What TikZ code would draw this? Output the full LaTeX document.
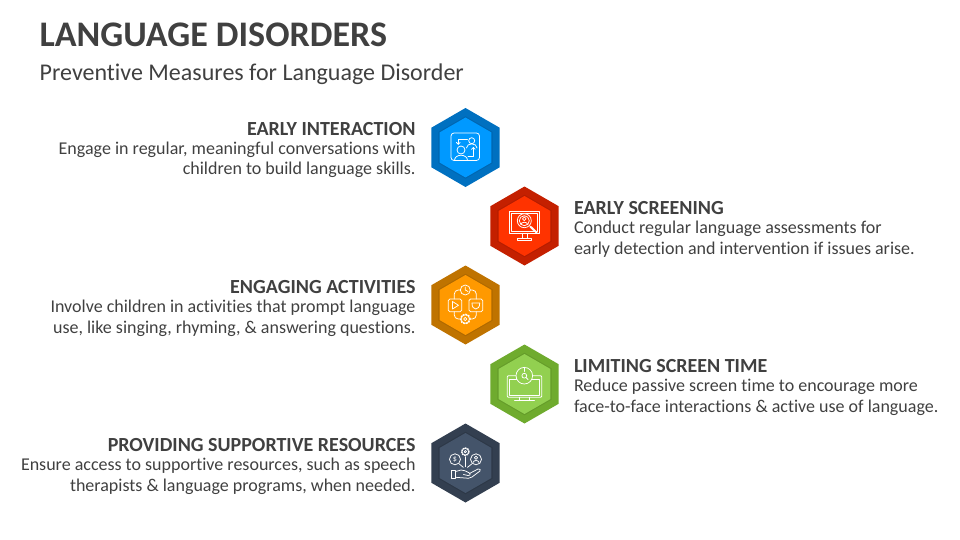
\documentclass[tikz,border=0pt]{standalone}
\usepackage{fontspec}
\setmainfont[Ligatures=NoCommon]{Carlito}
\usetikzlibrary{shapes.geometric}
\definecolor{txt}{HTML}{404040}
\definecolor{blueA}{HTML}{0070C0}\definecolor{blueS}{HTML}{0066B0}\definecolor{blueB}{HTML}{0099FF}
\definecolor{redA}{HTML}{C42000}\definecolor{redS}{HTML}{B41D00}\definecolor{redB}{HTML}{FF3300}
\definecolor{orA}{HTML}{BF7300}\definecolor{orS}{HTML}{AE6900}\definecolor{orB}{HTML}{FF9900}
\definecolor{grA}{HTML}{6FAB2E}\definecolor{grS}{HTML}{659C2A}\definecolor{grB}{HTML}{92D050}
\definecolor{navA}{HTML}{333F50}\definecolor{navS}{HTML}{2D3847}\definecolor{navB}{HTML}{44546A}
\tikzset{
 hex/.style={regular polygon,regular polygon sides=6,shape border rotate=30,inner sep=0pt,outer sep=0pt,draw=none},
 hexout/.style={hex,minimum size=79pt},
 hexshade/.style={hex,minimum size=62.5pt},
 hexin/.style={hex,minimum size=60pt},
 ttl/.style={inner sep=0pt,outer sep=0pt,text=txt,font=\fontsize{20}{24}\selectfont\bfseries},
 bodyR/.style={inner sep=0pt,outer sep=0pt,text=txt,anchor=base east,font=\fontsize{18}{21}\selectfont},
 bodyL/.style={inner sep=0pt,outer sep=0pt,text=txt,anchor=base west,font=\fontsize{18}{21}\selectfont},
 ic/.style={draw=white,line width=0.75pt,line cap=round,line join=round},
}
\newcommand{\hexa}[4]{%
 \node[hexout,fill=#3A] (#1o) at (#2,#4) {};
 \node[hexshade,fill=#3S] (#1s) at (#2,#4) {};
 \node[hexin,fill=#3B] (#1i) at (#2,#4) {};
}
\begin{document}
\begin{tikzpicture}[x=1pt,y=-1pt]
\useasboundingbox (0,0) rectangle (960,540);
\node[inner sep=0pt,anchor=base west,text=txt,font=\fontsize{36}{40}\selectfont\bfseries] (title) at (39.5,46.5) {LANGUAGE DISORDERS};
\node[inner sep=0pt,anchor=base west,text=txt,font=\fontsize{24}{28}\selectfont] (sub) at (39.5,81) {Preventive Measures for Language Disorder};

\hexa{a}{465.5}{blue}{147.5}
\hexa{b}{524.5}{red}{226}
\hexa{c}{465.5}{or}{305}
\hexa{d}{524.5}{gr}{384}
\hexa{e}{465.5}{nav}{463}

% left / right texts
\node[ttl,anchor=base east] (t1) at (415.5,135.5) {EARLY INTERACTION};
\node[bodyR] (b1a) at (415.5,155) {Engage in regular, meaningful conversations with};
\node[bodyR] (b1b) at (415.5,175) {children to build language skills.};
\node[ttl,anchor=base west] (t2) at (574,214) {EARLY SCREENING};
\node[bodyL] (b2a) at (574,233) {Conduct regular language assessments for};
\node[bodyL] (b2b) at (574,254) {early detection and intervention if issues arise.};
\node[ttl,anchor=base east] (t3) at (415.5,293) {ENGAGING ACTIVITIES};
\node[bodyR] (b3a) at (415.5,312) {Involve children in activities that prompt language};
\node[bodyR] (b3b) at (415.5,333) {use, like singing, rhyming, \& answering questions.};
\node[ttl,anchor=base west] (t4) at (574,372) {LIMITING SCREEN TIME};
\node[bodyL] (b4a) at (574,391) {Reduce passive screen time to encourage more};
\node[bodyL] (b4b) at (574,412) {face-to-face interactions \& active use of language.};
\node[ttl,anchor=base east] (t5) at (415.5,451) {PROVIDING SUPPORTIVE RESOURCES};
\node[bodyR] (b5a) at (415.5,470) {Ensure access to supportive resources, such as speech};
\node[bodyR] (b5b) at (415.5,491) {therapists \& language programs, when needed.};

% icon 1
\begin{scope}[ic]
\draw[rounded corners=3pt] (451,133) rectangle (479.5,160.5);
\draw (461,150) circle (4pt);
\draw (454.5,160.5) .. controls (454.5,153.5) and (467.5,153.5) .. (467.5,160.5);
\draw (471.7,140.7) circle (3pt);
\draw (466.5,148) .. controls (466.5,142.5) and (477,142.5) .. (477,148);
\draw (467.5,139.3) -- (458.3,139.3) -- (458.3,144.3);
\draw (456.5,142.5) -- (458.3,144.3) -- (460.1,142.5);
\draw (468,156.7) -- (473.3,156.7) -- (473.3,147.5);
\draw (471.5,149.3) -- (473.3,147.5) -- (475.1,149.3);
\end{scope}
% icon 2
\begin{scope}[ic]
\draw (509.3,211) rectangle (539.3,233.3);
\draw (511.3,213) rectangle (537.3,231);
\draw (522,233.3) -- (522,238.3) (527,233.3) -- (527,238.3);
\draw (517.5,238.3) rectangle (531.7,240.7);
\draw[fill=redB] (524.3,220.7) circle (7pt);
\draw (524.3,220.7) circle (5pt);
\draw (524.3,218.8) circle (1.8pt);
\draw (520.8,224.5) .. controls (521.5,221.5) and (527,221.5) .. (527.8,224.5);
\draw[line width=2pt] (530.3,226.5) -- (536.7,232.7);
\end{scope}
% icon 3
\begin{scope}[ic]
\draw[rounded corners=4pt] (460.3,290) -- (454.3,290) -- (454.3,299);
\draw[rounded corners=4pt] (470.3,290) -- (476.3,290) -- (476.3,299);
\draw[rounded corners=4pt] (460.3,319) -- (454.3,319) -- (454.3,311.7);
\draw[rounded corners=4pt] (470.3,319) -- (476.3,319) -- (476.3,311.7);
\draw (465.3,290) circle (5pt);
\draw (465.3,287) -- (465.3,290) -- (468,291.5);
\draw[line width=1pt,dash pattern=on 1.4pt off 1.6pt] (465.3,319) circle (5pt);
\draw (465.3,319) circle (4.2pt);
\draw (465.3,319) circle (1.6pt);
\draw[rounded corners=1.5pt] (448.3,299) rectangle (461.7,311.7);
\draw[rounded corners=1.5pt] (469,299) rectangle (482.7,311.7);
\draw (452.5,301.5) -- (452.5,309) -- (458.5,305.3) -- cycle;
\draw (472,303) -- (479.7,303) .. controls (480,307) and (477.5,309) .. (475.8,309) .. controls (474,309) and (471.7,307) .. (472,303) -- cycle;
\end{scope}
% icon 4
\begin{scope}[ic]
\draw[rounded corners=1pt] (507.3,375.7) rectangle (541.7,397.3);
\draw (509.7,379.5) rectangle (539.3,395);
\draw (519.5,397.3) -- (519.5,400) (529.5,397.3) -- (529.5,400);
\draw (514.5,400.3) -- (534.5,400.3);
\draw[fill=grB] (524.3,375.7) circle (8.3pt);
\draw (524.3,367.3) -- (524.3,371.5);
\draw (524.3,375.7) circle (2.4pt);
\draw (526,377.5) -- (528,379.5);
\end{scope}
% icon 5
\begin{scope}[ic]
\draw[line width=0.9pt,dash pattern=on 1.2pt off 1.3pt] (465.3,451.7) circle (4pt);
\draw (465.3,451.7) circle (3.3pt);
\draw (465.3,451.7) circle (1.2pt);
\draw (455,459.3) circle (5.5pt);
\draw (476,459.3) circle (5.5pt);
\node[inner sep=0pt,text=white,font=\fontsize{8}{8}\selectfont] (dol) at (455,459.3) {\$};
\draw (476,457.8) circle (1.6pt);
\draw (473,462.5) .. controls (473.5,459.8) and (478.5,459.8) .. (479,462.5);
\draw (465.3,456.7) -- (465.3,466.7);
\draw (459.3,464) -- (463.3,467.3);
\draw (471.7,464) -- (467.5,467.3);
\draw (451.7,470) rectangle (455.7,478.5);
\draw (455.7,471.5) -- (461,470) .. controls (463.5,469.5) and (466,471.5) .. (468.5,472.5) -- (470,473.5) .. controls (471,474.5) and (469.5,476) .. (468,475.5) -- (463.5,474.5);
\draw (469.5,473.5) -- (478,469) .. controls (480,468.5) and (481,470) .. (480,471) -- (472,477) .. controls (470,478.5) and (467,478.5) .. (465,478) -- (455.7,477.3);
\end{scope}
\end{tikzpicture}
\end{document}
